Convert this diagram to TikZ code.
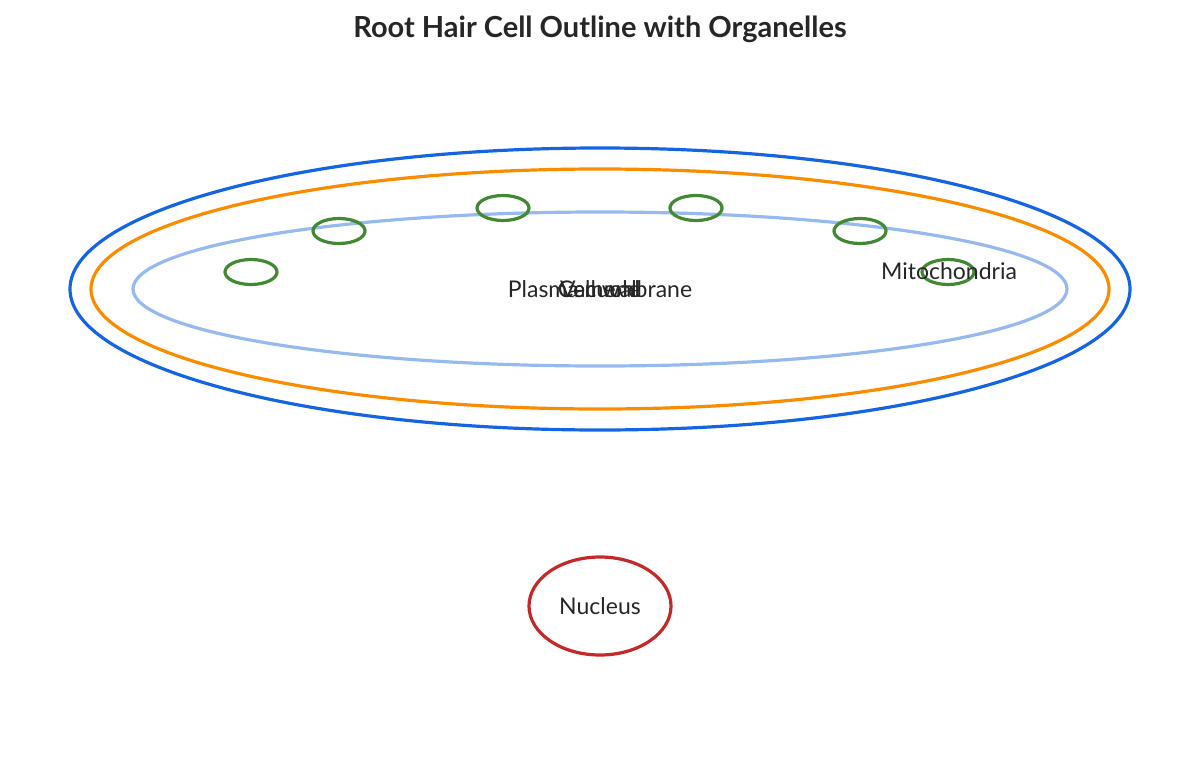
\documentclass[tikz,border=0pt]{standalone}
\usepackage{fontspec}
\setmainfont{Lato}
\begin{document}
\begin{tikzpicture}[x=1pt,y=-1pt,
  lbl/.style={font=\fontsize{23}{27}\selectfont, text=black!85}]
\useasboundingbox (0,0) rectangle (1200,763);
\node[font=\bfseries\fontsize{29}{33}\selectfont, text=black!85] (title) at (600,29) {Root Hair Cell Outline with Organelles};
\draw[draw={rgb,255:red,21;green,101;blue,226}, line width=3.2pt] (600,289) ellipse [x radius=530, y radius=141];
\draw[draw={rgb,255:red,251;green,140;blue,0}, line width=3.2pt] (600,289) ellipse [x radius=509, y radius=120];
\draw[draw={rgb,255:red,150;green,185;blue,240}, line width=3.2pt] (600,289) ellipse [x radius=467, y radius=77];
\foreach \n/\x/\y in {m1/251/272,m2/339/231,m3/503/208,m4/696/208,m5/860/231,m6/948/272}
  \draw[draw={rgb,255:red,67;green,137;blue,52}, line width=3.2pt] (\x,\y) ellipse [x radius=26, y radius=12.5];
\draw[draw={rgb,255:red,198;green,40;blue,40}, line width=3.2pt] (600,606) ellipse [x radius=71, y radius=49];
\node[lbl] (pm) at (600,289) {Plasma membrane};
\node[lbl] (cw) at (600,289) {Cell wall};
\node[lbl] (vac) at (600,289) {Vacuole};
\node[lbl] (mt) at (949,271) {Mitochondria};
\node[lbl] (nu) at (600,606) {Nucleus};
\end{tikzpicture}
\end{document}
